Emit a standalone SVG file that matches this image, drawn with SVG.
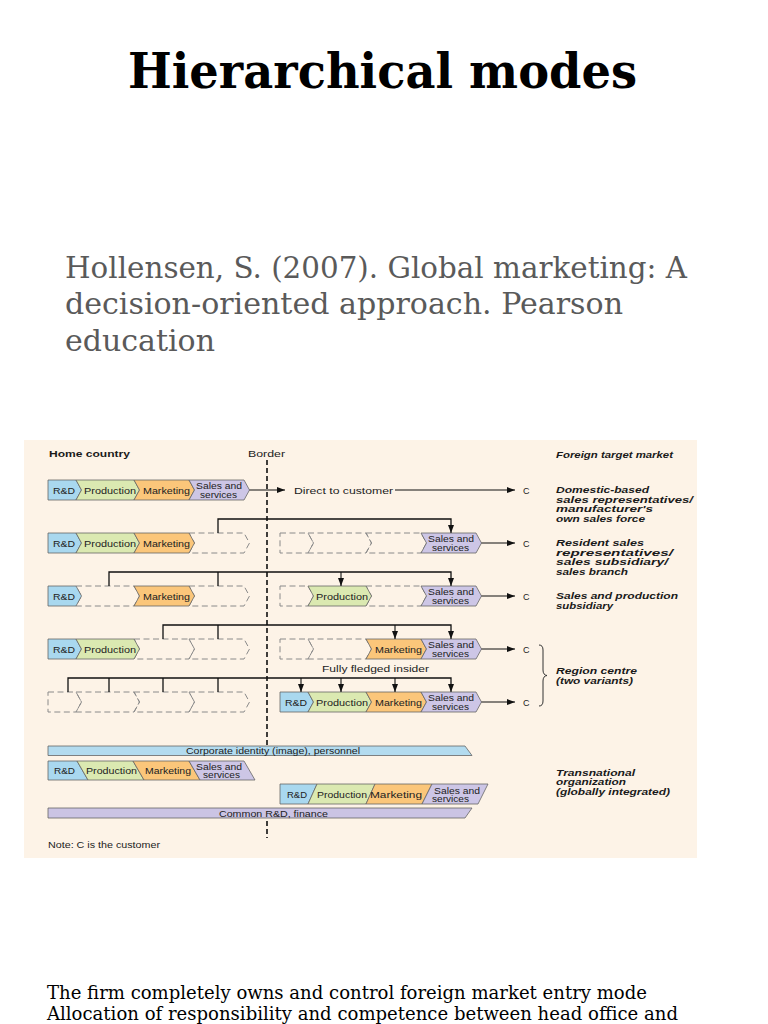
<svg xmlns="http://www.w3.org/2000/svg" xmlns:xlink="http://www.w3.org/1999/xlink" width="768" height="1024" viewBox="0 0 768 1024">
<style>
.serif{font-family:"DejaVu Serif","Liberation Serif",serif}
.sans{font-family:"Liberation Sans",Arial,sans-serif}
.lbl{font-family:"Liberation Sans",Arial,sans-serif;font-size:9px;fill:#222}
.side{font-family:"Liberation Sans",Arial,sans-serif;font-size:9.5px;font-weight:bold;font-style:italic;fill:#1a1a1a}
.rd{fill:#a9d8ef;stroke:#666;stroke-width:0.8}
.pr{fill:#dbe9b1;stroke:#666;stroke-width:0.8}
.mk{fill:#fbc67a;stroke:#666;stroke-width:0.8}
.ss{fill:#cdc6e6;stroke:#666;stroke-width:0.8}
.ds{fill:none;stroke:#8a8a8a;stroke-width:1;stroke-dasharray:6 3.5}
.con{fill:none;stroke:#111;stroke-width:1.3}
.arr{fill:none;stroke:#111;stroke-width:1.1;marker-end:url(#ah)}
.bd{stroke:#111;stroke-width:1.6;stroke-dasharray:5 3}
</style>
<defs>
<marker id="ah" viewBox="0 0 8 6" refX="8" refY="3" markerWidth="8" markerHeight="6" markerUnits="userSpaceOnUse" orient="auto"><path d="M0,0 L8,3 L0,6 Z" fill="#111"/></marker>
<path id="c1" d="M0,0 H28 L33.5,10 L28,20 H0 Z"/>
<path id="c2" d="M0,0 H58 L63.5,10 L58,20 H0 L5.5,10 Z"/>
<path id="c3" d="M0,0 H55 L60.5,10 L55,20 H0 L5.5,10 Z"/>
</defs>
<rect x="0" y="0" width="768" height="1024" fill="#ffffff"/>
<text class="serif" x="128" y="88" font-size="49" font-weight="bold" textLength="509" lengthAdjust="spacingAndGlyphs">Hierarchical modes</text>
<g class="serif" font-size="30" fill="#5a5a5a">
<text x="65" y="278" textLength="622" lengthAdjust="spacingAndGlyphs">Hollensen, S. (2007). Global marketing: A</text>
<text x="65" y="314" textLength="558" lengthAdjust="spacingAndGlyphs">decision-oriented approach. Pearson</text>
<text x="65" y="351" textLength="150" lengthAdjust="spacingAndGlyphs">education</text>
</g>
<g id="diagram-bg"><rect x="24" y="440" width="673" height="418" fill="#fdf3e7"/></g>
<g id="border">
<line class="bd" x1="267" y1="460" x2="267" y2="746"/>
<line class="bd" x1="267" y1="821" x2="267" y2="838"/>
<text class="lbl" x="248" y="456.5" font-size="8.5" textLength="37" lengthAdjust="spacingAndGlyphs">Border</text>
</g>
<g id="headers">
<text class="sans" x="49" y="456.5" font-size="8.5" font-weight="bold" fill="#1a1a1a" textLength="81" lengthAdjust="spacingAndGlyphs">Home country</text>
<text class="side" x="556" y="457.5" font-size="9" textLength="117" lengthAdjust="spacingAndGlyphs">Foreign target market</text>
</g>
<g id="row1">
<use href="#c1" x="48" y="480" class="rd"/><use href="#c2" x="76" y="480" class="pr"/><use href="#c3" x="134" y="480" class="mk"/><use href="#c3" x="189" y="480" class="ss"/>
<text class="lbl" x="53" y="493.5" textLength="22" lengthAdjust="spacingAndGlyphs">R&amp;D</text>
<text class="lbl" x="84" y="493.5" textLength="52" lengthAdjust="spacingAndGlyphs">Production</text>
<text class="lbl" x="143" y="493.5" textLength="47" lengthAdjust="spacingAndGlyphs">Marketing</text>
<text class="lbl" x="196" y="489" textLength="46" lengthAdjust="spacingAndGlyphs">Sales and</text>
<text class="lbl" x="200" y="497.5" textLength="37" lengthAdjust="spacingAndGlyphs">services</text>
<text class="lbl" x="294" y="493.5" textLength="99" lengthAdjust="spacingAndGlyphs">Direct to customer</text>
<text class="lbl" x="523" y="493.5" fill="#444">C</text>
<text class="side" x="556" y="493" textLength="93" lengthAdjust="spacingAndGlyphs">Domestic-based</text>
<text class="side" x="556" y="502.7" textLength="137" lengthAdjust="spacingAndGlyphs">sales representatives/</text>
<text class="side" x="556" y="512.4" textLength="97" lengthAdjust="spacingAndGlyphs">manufacturer's</text>
<text class="side" x="556" y="522.1" textLength="89" lengthAdjust="spacingAndGlyphs">own sales force</text>
</g>
<g id="row2">
<use href="#c3" x="189" y="533" class="ds"/>
<use href="#c1" x="48" y="533" class="rd"/><use href="#c2" x="76" y="533" class="pr"/><use href="#c3" x="134" y="533" class="mk"/>
<use href="#c1" x="280" y="533" class="ds"/><use href="#c2" x="308" y="533" class="ds"/><use href="#c3" x="366" y="533" class="ds"/>
<use href="#c3" x="421" y="533" class="ss"/>
<text class="lbl" x="53" y="546.5" textLength="22" lengthAdjust="spacingAndGlyphs">R&amp;D</text>
<text class="lbl" x="84" y="546.5" textLength="52" lengthAdjust="spacingAndGlyphs">Production</text>
<text class="lbl" x="143" y="546.5" textLength="47" lengthAdjust="spacingAndGlyphs">Marketing</text>
<text class="lbl" x="428" y="542" textLength="46" lengthAdjust="spacingAndGlyphs">Sales and</text>
<text class="lbl" x="432" y="550.5" textLength="37" lengthAdjust="spacingAndGlyphs">services</text>
<text class="lbl" x="523" y="546.5" fill="#444">C</text>
<text class="side" x="556" y="546" textLength="88" lengthAdjust="spacingAndGlyphs">Resident sales</text>
<text class="side" x="556" y="555.7" textLength="117" lengthAdjust="spacingAndGlyphs">representatives/</text>
<text class="side" x="556" y="565.4" textLength="112" lengthAdjust="spacingAndGlyphs">sales subsidiary/</text>
<text class="side" x="556" y="575.1" textLength="72" lengthAdjust="spacingAndGlyphs">sales branch</text>
</g>
<g id="row3">
<use href="#c2" x="76" y="586" class="ds"/><use href="#c3" x="189" y="586" class="ds"/>
<use href="#c1" x="48" y="586" class="rd"/><use href="#c3" x="134" y="586" class="mk"/>
<use href="#c1" x="280" y="586" class="ds"/><use href="#c3" x="366" y="586" class="ds"/>
<use href="#c2" x="308" y="586" class="pr"/><use href="#c3" x="421" y="586" class="ss"/>
<text class="lbl" x="53" y="599.5" textLength="22" lengthAdjust="spacingAndGlyphs">R&amp;D</text>
<text class="lbl" x="143" y="599.5" textLength="47" lengthAdjust="spacingAndGlyphs">Marketing</text>
<text class="lbl" x="316" y="599.5" textLength="52" lengthAdjust="spacingAndGlyphs">Production</text>
<text class="lbl" x="428" y="595" textLength="46" lengthAdjust="spacingAndGlyphs">Sales and</text>
<text class="lbl" x="432" y="603.5" textLength="37" lengthAdjust="spacingAndGlyphs">services</text>
<text class="lbl" x="523" y="599.5" fill="#444">C</text>
<text class="side" x="556" y="599" textLength="122" lengthAdjust="spacingAndGlyphs">Sales and production</text>
<text class="side" x="556" y="608.7" textLength="57" lengthAdjust="spacingAndGlyphs">subsidiary</text>
</g>
<g id="row4">
<use href="#c3" x="134" y="639" class="ds"/><use href="#c3" x="189" y="639" class="ds"/>
<use href="#c1" x="48" y="639" class="rd"/><use href="#c2" x="76" y="639" class="pr"/>
<use href="#c1" x="280" y="639" class="ds"/><use href="#c2" x="308" y="639" class="ds"/>
<use href="#c3" x="366" y="639" class="mk"/><use href="#c3" x="421" y="639" class="ss"/>
<text class="lbl" x="53" y="652.5" textLength="22" lengthAdjust="spacingAndGlyphs">R&amp;D</text>
<text class="lbl" x="84" y="652.5" textLength="52" lengthAdjust="spacingAndGlyphs">Production</text>
<text class="lbl" x="375" y="652.5" textLength="47" lengthAdjust="spacingAndGlyphs">Marketing</text>
<text class="lbl" x="428" y="648" textLength="46" lengthAdjust="spacingAndGlyphs">Sales and</text>
<text class="lbl" x="432" y="656.5" textLength="37" lengthAdjust="spacingAndGlyphs">services</text>
<text class="lbl" x="523" y="652.5" fill="#444">C</text>
<text class="lbl" x="322" y="672" textLength="107" lengthAdjust="spacingAndGlyphs">Fully fledged insider</text>
</g>
<g id="row5">
<use href="#c1" x="48" y="692" class="ds"/><use href="#c2" x="76" y="692" class="ds"/><use href="#c3" x="134" y="692" class="ds"/><use href="#c3" x="189" y="692" class="ds"/>
<use href="#c1" x="280" y="692" class="rd"/><use href="#c2" x="308" y="692" class="pr"/><use href="#c3" x="366" y="692" class="mk"/><use href="#c3" x="421" y="692" class="ss"/>
<text class="lbl" x="285" y="705.5" textLength="22" lengthAdjust="spacingAndGlyphs">R&amp;D</text>
<text class="lbl" x="316" y="705.5" textLength="52" lengthAdjust="spacingAndGlyphs">Production</text>
<text class="lbl" x="375" y="705.5" textLength="47" lengthAdjust="spacingAndGlyphs">Marketing</text>
<text class="lbl" x="428" y="701" textLength="46" lengthAdjust="spacingAndGlyphs">Sales and</text>
<text class="lbl" x="432" y="709.5" textLength="37" lengthAdjust="spacingAndGlyphs">services</text>
<text class="lbl" x="523" y="705.5" fill="#444">C</text>
</g>
<g id="region-centre">
<path d="M539,645 Q543,645 543,650 L543,670 Q543,675 547,675.5 Q543,676 543,681 L543,701 Q543,706 539,706" fill="none" stroke="#333" stroke-width="1"/>
<text class="side" x="556" y="674" textLength="81" lengthAdjust="spacingAndGlyphs">Region centre</text>
<text class="side" x="556" y="683.5" textLength="77" lengthAdjust="spacingAndGlyphs">(two variants)</text>
</g>
<g id="transnational">
<path d="M48,746 H465 L472,755.5 H48 Z" fill="#b3dbef" stroke="#666" stroke-width="0.8"/>
<text class="lbl" x="186" y="754" font-size="8.5" textLength="174" lengthAdjust="spacingAndGlyphs">Corporate identity (image), personnel</text>
<path class="rd" d="M48,761 L77,761 L88,780 L48,780 Z"/>
<path class="pr" d="M77,761 L133,761 L144,780 L88,780 Z"/>
<path class="mk" d="M133,761 L189,761 L200,780 L144,780 Z"/>
<path class="ss" d="M189,761 L244,761 L255,780 L200,780 Z"/>
<text class="lbl" x="54" y="774" textLength="21" lengthAdjust="spacingAndGlyphs">R&amp;D</text>
<text class="lbl" x="86" y="774" textLength="51" lengthAdjust="spacingAndGlyphs">Production</text>
<text class="lbl" x="145" y="774" textLength="46" lengthAdjust="spacingAndGlyphs">Marketing</text>
<text class="lbl" x="196" y="769.5" textLength="46" lengthAdjust="spacingAndGlyphs">Sales and</text>
<text class="lbl" x="203" y="777.5" textLength="37" lengthAdjust="spacingAndGlyphs">services</text>
<path class="rd" d="M280,784 L317,784 L308,804 L280,804 Z"/>
<path class="pr" d="M317,784 L375,784 L366,804 L308,804 Z"/>
<path class="mk" d="M375,784 L432,784 L422,804 L366,804 Z"/>
<path class="ss" d="M432,784 L488,784 L478,804 L422,804 Z"/>
<text class="lbl" x="287" y="797.5" textLength="20" lengthAdjust="spacingAndGlyphs">R&amp;D</text>
<text class="lbl" x="317" y="797.5" textLength="50" lengthAdjust="spacingAndGlyphs">Production</text>
<text class="lbl" x="370" y="797.5" textLength="52" lengthAdjust="spacingAndGlyphs">Marketing</text>
<text class="lbl" x="434" y="793.5" textLength="46" lengthAdjust="spacingAndGlyphs">Sales and</text>
<text class="lbl" x="432" y="802" textLength="37" lengthAdjust="spacingAndGlyphs">services</text>
<path d="M48,808 H472 L465,818 H48 Z" fill="#cbc4e4" stroke="#666" stroke-width="0.8"/>
<text class="lbl" x="219" y="816.5" font-size="8.5" textLength="109" lengthAdjust="spacingAndGlyphs">Common R&amp;D, finance</text>
<text class="side" x="556" y="775.5" textLength="79" lengthAdjust="spacingAndGlyphs">Transnational</text>
<text class="side" x="556" y="785" textLength="70" lengthAdjust="spacingAndGlyphs">organization</text>
<text class="side" x="556" y="795" textLength="114" lengthAdjust="spacingAndGlyphs">(globally integrated)</text>
<text class="lbl" x="48" y="847.5" font-size="8" textLength="112" lengthAdjust="spacingAndGlyphs">Note: C is the customer</text>
</g>
<g id="connectors">
<line class="arr" x1="249.5" y1="490" x2="285" y2="490"/>
<line class="arr" x1="395" y1="490" x2="515" y2="490"/>
<line class="arr" x1="481.5" y1="543" x2="515" y2="543"/>
<line class="arr" x1="481.5" y1="596" x2="515" y2="596"/>
<line class="arr" x1="481.5" y1="649" x2="515" y2="649"/>
<line class="arr" x1="481.5" y1="702" x2="515" y2="702"/>
<polyline class="con" points="218,533 218,519 451,519 451,527"/>
<line class="arr" x1="451" y1="526" x2="451" y2="533"/>
<polyline class="con" points="109,586 109,572 451,572 451,580"/>
<line class="con" x1="218" y1="586" x2="218" y2="572"/>
<line class="arr" x1="341" y1="572" x2="341" y2="586"/>
<line class="arr" x1="451" y1="579" x2="451" y2="586"/>
<polyline class="con" points="163,639 163,625 451,625 451,633"/>
<line class="con" x1="218" y1="639" x2="218" y2="625"/>
<line class="arr" x1="395" y1="625" x2="395" y2="639"/>
<line class="arr" x1="451" y1="632" x2="451" y2="639"/>
<polyline class="con" points="68,692 68,678 451,678 451,686"/>
<line class="con" x1="109" y1="692" x2="109" y2="678"/>
<line class="con" x1="163" y1="692" x2="163" y2="678"/>
<line class="con" x1="218" y1="692" x2="218" y2="678"/>
<line class="arr" x1="301" y1="678" x2="301" y2="692"/>
<line class="arr" x1="341" y1="678" x2="341" y2="692"/>
<line class="arr" x1="395" y1="678" x2="395" y2="692"/>
<line class="arr" x1="451" y1="685" x2="451" y2="692"/>
</g>
<g class="serif" font-size="19" fill="#000">
<text x="47" y="999" textLength="600" lengthAdjust="spacingAndGlyphs">The firm completely owns and control foreign market entry mode</text>
<text x="47" y="1020" textLength="631" lengthAdjust="spacingAndGlyphs">Allocation of responsibility and competence between head office and</text>
</g>
</svg>
